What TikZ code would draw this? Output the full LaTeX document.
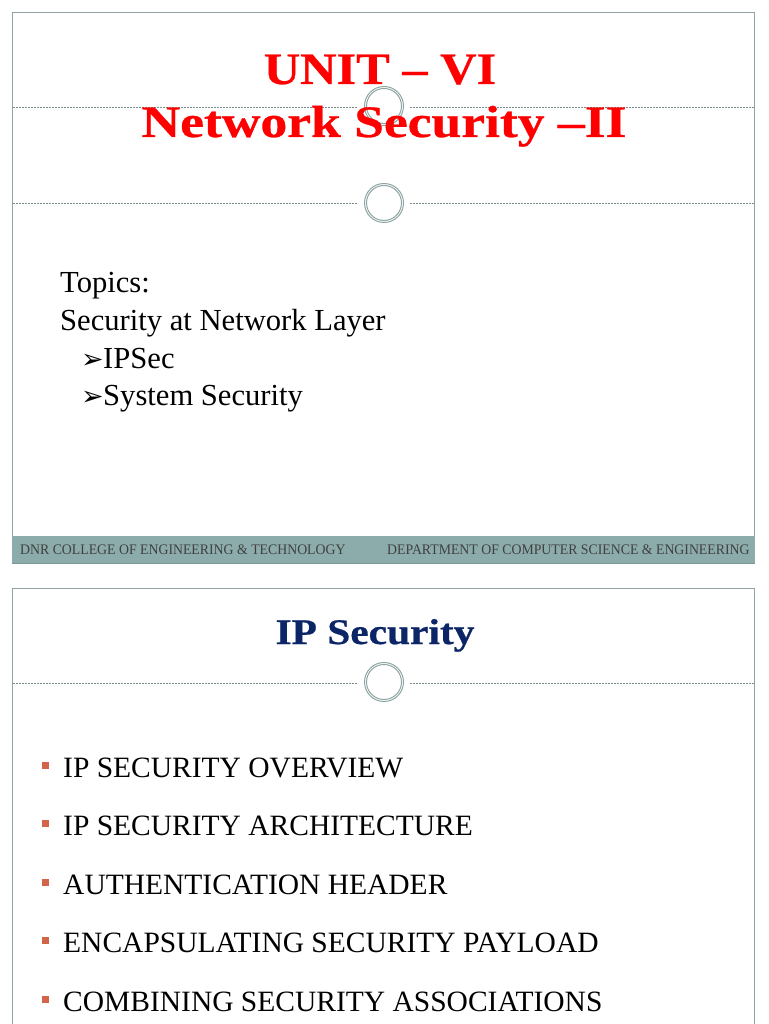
\documentclass[tikz,border=0pt]{standalone}
\usepackage{graphicx}
\usepackage{fontspec}
\setmainfont{Liberation Serif}
\newfontfamily\dingfont{DejaVu Sans}
\newfontfamily\heavy[BoldFeatures={FakeBold=0.6}]{Liberation Serif}
\definecolor{framegray}{HTML}{8FA5A5}
\definecolor{bandteal}{HTML}{8CACAC}
\definecolor{bandedge}{HTML}{7D9696}
\definecolor{navy}{HTML}{0B2566}
\definecolor{bulletred}{HTML}{D0654A}
\tikzset{
  frameline/.style={draw=framegray,line width=1pt},
  dashline/.style={draw=framegray!85!black,line width=0.7pt,dash pattern=on 2pt off 1pt},
  ringouter/.style={circle,draw=framegray,line width=1pt,minimum size=39pt,inner sep=0pt},
  ringinner/.style={circle,draw=framegray,line width=1pt,minimum size=35pt,inner sep=0pt},
  bigtitle/.style={text=red,font=\heavy\fontsize{45}{45}\selectfont\bfseries,anchor=base,inner sep=0pt},
  bluetitle/.style={text=navy,font=\heavy\fontsize{36}{36}\selectfont\bfseries,anchor=base,inner sep=0pt},
  bodytext/.style={font=\fontsize{30.6}{31}\selectfont,anchor=base west,inner sep=0pt},
  listtext/.style={font=\fontsize{29.5}{30}\selectfont,anchor=base west,inner sep=0pt},
  foot/.style={font=\fontsize{14.6}{15}\selectfont,text=black!75,anchor=base west,inner sep=0pt},
  sqbullet/.style={fill=bulletred,draw=none,minimum size=7pt,inner sep=0pt,rectangle},
}
\begin{document}
\begin{tikzpicture}[x=1pt,y=-1pt]
\useasboundingbox (0,0) rectangle (768,1024);
\fill[white] (0,0) rectangle (768,1024);
% slide 1
\draw[frameline] (12.5,12.5) rectangle (754.5,563);
\fill[bandteal] (12,536) rectangle (755,563);
\draw[bandedge,line width=1pt] (12,563) -- (755,563);
\draw[dashline] (13,107.5) -- (358,107.5);
\draw[dashline] (410,107.5) -- (754,107.5);
\draw[dashline] (13,203.5) -- (358,203.5);
\draw[dashline] (410,203.5) -- (754,203.5);
\node[ringouter] (r1o) at (384,106) {};
\node[ringinner] (r1i) at (384,106) {};
\node[ringouter] (r2o) at (384,203) {};
\node[ringinner] (r2i) at (384,203) {};
\node[bigtitle] (t1) at (380,84) {\scalebox{1.12}[1]{UNIT – VI}};
\node[bigtitle] (t2) at (384,137) {\scalebox{1.19}[1]{Network Security –II}};
\node[bodytext] (b1) at (60,292) {Topics:};
\node[bodytext] (b2) at (60,330) {Security at Network Layer};
\node[bodytext] (b3) at (81,368) {\makebox[22pt][l]{\dingfont\fontsize{27}{27}\selectfont ➢}IPSec};
\node[bodytext] (b4) at (81,405) {\makebox[22pt][l]{\dingfont\fontsize{27}{27}\selectfont ➢}System Security};
\node[foot] (f1) at (20,554.5) {\scalebox{0.945}[1]{DNR COLLEGE OF ENGINEERING \& TECHNOLOGY}};
\node[foot] (f2) at (387,554.5) {\scalebox{0.945}[1]{DEPARTMENT OF COMPUTER SCIENCE \& ENGINEERING}};
% slide 2
\draw[frameline] (12.5,1025) -- (12.5,588.5) -- (754.5,588.5) -- (754.5,1025);
\draw[dashline] (13,683.5) -- (358,683.5);
\draw[dashline] (410,683.5) -- (754,683.5);
\node[ringouter] (r3o) at (384,682) {};
\node[ringinner] (r3i) at (384,682) {};
\node[bluetitle] (t3) at (375,644) {\scalebox{1.15}[1]{IP Security}};
\foreach \n/\y/\s in {a/777/IP SECURITY OVERVIEW,b/835/IP SECURITY ARCHITECTURE,c/894/AUTHENTICATION HEADER,d/952/ENCAPSULATING SECURITY PAYLOAD,e/1011/COMBINING SECURITY ASSOCIATIONS}{
  \node[sqbullet] (s\n) at (45,\y-11.5) {};
  \node[listtext] (l\n) at (63,\y) {\s};
}
\end{tikzpicture}
\end{document}
